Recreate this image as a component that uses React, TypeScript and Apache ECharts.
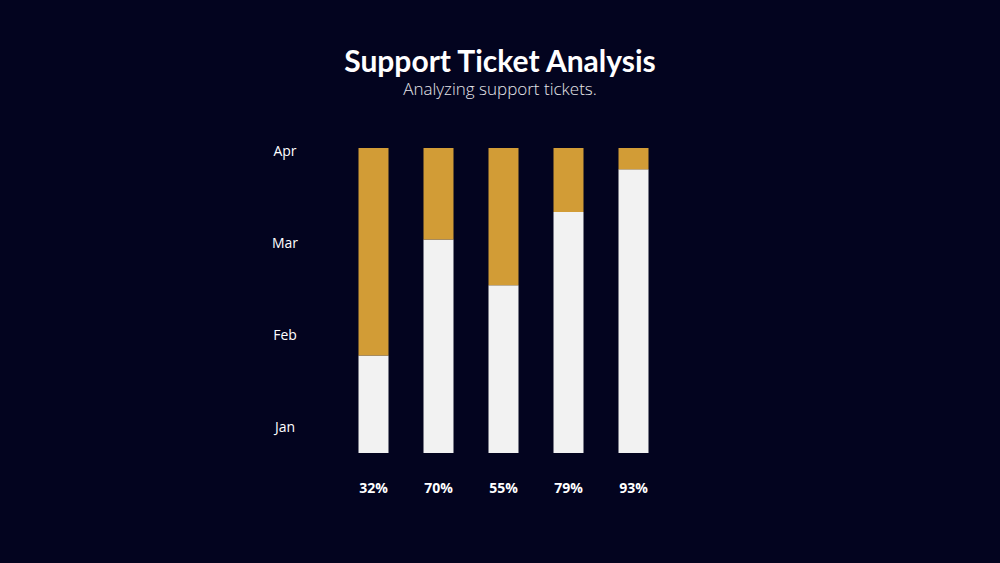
import React, { useEffect, useRef } from 'react'
import * as echarts from 'echarts'

const resolved = [32, 70, 55, 79, 93]
const remaining = resolved.map(v => 100 - v)
const months = ['Jan', 'Feb', 'Mar', 'Apr']
const percentLabels = resolved.map(v => `${v}%`)

const BG = '#03041f'
const GOLD = '#d29c36'
const WHITE = '#f2f2f2'

const App: React.FC = () => {
  const chartRef = useRef<HTMLDivElement>(null)

  useEffect(() => {
    if (!chartRef.current) return
    const chart = echarts.init(chartRef.current, null, { renderer: 'svg' })

    const option: echarts.EChartsOption = {
      animation: false,
      backgroundColor: BG,
      title: {
        text: 'Support Ticket Analysis',
        subtext: 'Analyzing support tickets.',
        left: 'center',
        top: 40,
        itemGap: 5,
        textStyle: {
          color: '#ffffff',
          fontFamily: 'Lato',
          fontWeight: 'bold',
          fontSize: 30
        },
        subtextStyle: {
          color: '#e6e6ea',
          fontFamily: 'Open Sans',
          fontWeight: 300,
          fontSize: 17
        }
      },
      grid: [
        { left: 341, right: 334, top: 148, bottom: 110 },
        { left: 285, width: 10, top: 150.5, bottom: 136.5 }
      ],
      xAxis: [
        {
          type: 'category',
          gridIndex: 0,
          data: percentLabels,
          axisLine: { show: false },
          axisTick: { show: false },
          axisLabel: {
            color: '#ffffff',
            fontFamily: 'Open Sans',
            fontWeight: 'bold',
            fontSize: 14,
            margin: 27
          }
        },
        { type: 'value', gridIndex: 1, show: false }
      ],
      yAxis: [
        { type: 'value', gridIndex: 0, min: 0, max: 100, show: false },
        {
          type: 'category',
          gridIndex: 1,
          data: months,
          boundaryGap: false,
          axisLine: { show: false },
          axisTick: { show: false },
          splitLine: { show: false },
          axisLabel: {
            color: '#ffffff',
            fontFamily: 'Open Sans',
            fontSize: 14,
            margin: 0,
            align: 'center'
          }
        }
      ],
      series: [
        {
          type: 'bar',
          stack: 'total',
          xAxisIndex: 0,
          yAxisIndex: 0,
          data: resolved,
          barWidth: 30,
          itemStyle: { color: WHITE }
        },
        {
          type: 'bar',
          stack: 'total',
          xAxisIndex: 0,
          yAxisIndex: 0,
          data: remaining,
          barWidth: 30,
          itemStyle: { color: GOLD }
        }
      ]
    }

    chart.setOption(option)
    return () => {
      chart.dispose()
    }
  }, [])

  return <div ref={chartRef} style={{ width: 1000, height: 563, position: 'absolute', left: 0, top: 0 }} />
}

export default App
